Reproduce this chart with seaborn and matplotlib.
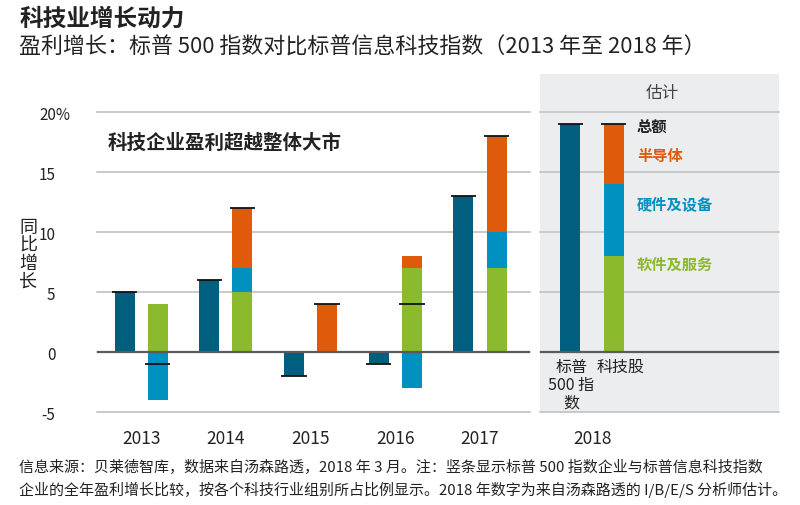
import numpy as np
import pandas as pd
import seaborn as sns
import matplotlib.pyplot as plt
from matplotlib.transforms import ScaledTranslation

# data (yoy earnings growth, %)
years = ['2013', '2014', '2015', '2016', '2017']
sp500 = [5, 6, -2, -1, 13]
software = [4, 5, 0, 7, 7]
hardware = [-4, 2, 0, -3, 3]
semis = [0, 5, 4, 1, 8]
tech_total = [-1, 12, 4, 4, 18]

est_year = '2018'
sp500_est = [19]
software_est = [8]
hardware_est = [6]
semis_est = [5]
tech_total_est = [19]

seg_labels = ['软件及服务', '硬件及设备', '半导体']
c_sp = '#005f7e'
c_soft = '#8bba2c'
c_hard = '#0091c1'
c_semi = '#e05a0c'
c_text = '#222222'
c_grid = '#c9c9c9'

sns.set_theme(style='white')
plt.rcParams['font.family'] = ['Noto Sans CJK SC', 'DejaVu Sans']

fig = plt.figure(figsize=(8, 5.06), dpi=100)
ax = fig.add_axes([97/800, 93/506, 433/800, 300/506])
ax2 = fig.add_axes([540/800, 93/506, 239/800, 338/506])

off = 0.195
bw = 0.236


def draw_tech(a, x, parts, totals):
    # stack positives up from zero and negatives down from zero
    parts = np.array(parts, dtype=float)
    pos_bottom = np.zeros(parts.shape[1])
    neg_bottom = np.zeros(parts.shape[1])
    for vals, col in zip(parts, [c_soft, c_hard, c_semi]):
        pos = np.where(vals > 0, vals, 0)
        neg = np.where(vals < 0, vals, 0)
        a.bar(x, pos, bw, bottom=pos_bottom, color=col, zorder=2, linewidth=0)
        a.bar(x, neg, bw, bottom=neg_bottom, color=col, zorder=2, linewidth=0)
        pos_bottom += pos
        neg_bottom += neg
    a.hlines(totals, x - 0.15, x + 0.15, color='#111111', lw=1.3, zorder=4)


# main years
xs = np.arange(len(years))
df = pd.DataFrame({'x': xs - off, 'sp500': sp500})
sns.barplot(data=df, x='x', y='sp500', native_scale=True, width=bw,
            color=c_sp, saturation=1, errorbar=None, ax=ax, zorder=2, linewidth=0)
ax.hlines(sp500, xs - off - 0.15, xs - off + 0.15, color='#111111', lw=1.3, zorder=4)
draw_tech(ax, xs + off, [software, hardware, semis], tech_total)

# 2018 estimate panel
x2 = np.array([0.0])
off2 = 0.255
df2 = pd.DataFrame({'x': x2 - off2, 'sp500': sp500_est})
sns.barplot(data=df2, x='x', y='sp500', native_scale=True, width=bw,
            color=c_sp, saturation=1, errorbar=None, ax=ax2, zorder=2, linewidth=0)
ax2.hlines(sp500_est, x2 - off2 - 0.15, x2 - off2 + 0.15, color='#111111', lw=1.3, zorder=4)
draw_tech(ax2, x2 + off2, [software_est, hardware_est, semis_est], tech_total_est)

# axes styling
yt = [-5, 0, 5, 10, 15, 20]
for a in (ax, ax2):
    a.set_ylabel('')
    a.set_xlabel('')
    a.set_yticks(yt)
    a.yaxis.grid(True, color=c_grid, lw=1.4)
    a.set_axisbelow(True)
    for ln in a.get_ygridlines():
        ln.set_clip_on(False)
    a.axhline(0, color='#5a5a5a', lw=1.6, zorder=3)
    sns.despine(ax=a, left=True, bottom=True)
    a.tick_params(axis='x', length=0, pad=12, labelsize=12.5, labelcolor=c_text)

ax.set_xlim(-0.52, 4.59)
ax.set_ylim(-5, 20)
ax.set_xticks(xs)
ax.set_xticklabels(years)
ax.set_yticklabels(['-5', '0', '5', '10', '15', '20%'])
ax.tick_params(axis='y', length=0, pad=30, labelsize=11, labelcolor=c_text)
for lab in ax.get_yticklabels():
    lab.set_horizontalalignment('right')
lab20 = ax.get_yticklabels()[-1]
lab20.set_transform(lab20.get_transform() + ScaledTranslation(0.15, 0, fig.dpi_scale_trans))

ax2.set_facecolor('#ecedef')
ax2.set_xlim(-0.614, 2.207)
ax2.set_ylim(-5, 23.2)
ax2.set_xticks([0])
ax2.set_xticklabels([est_year])
ax2.tick_params(axis='y', length=0, labelleft=False)

# panel texts
ax2.text(0.826, 21.65, '估计', ha='center', va='center', fontsize=12, color='#444444')
ax2.text(0.53, 18.8, '总额', ha='left', va='center', fontsize=11, fontweight='bold', color=c_text)
ax2.text(0.53, 16.45, seg_labels[2], ha='left', va='center', fontsize=11, fontweight='bold', color=c_semi)
ax2.text(0.53, 12.4, seg_labels[1], ha='left', va='center', fontsize=11, fontweight='bold', color=c_hard)
ax2.text(0.53, 7.4, seg_labels[0], ha='left', va='center', fontsize=11, fontweight='bold', color=c_soft)
ax2.text(-0.245, -0.5, '标普\n500 指\n数', ha='center', va='top', fontsize=11.5,
         color=c_text, linespacing=1.05)
ax2.text(0.34, -0.5, '科技股', ha='center', va='top', fontsize=11.5, color=c_text)

# annotation in main chart
ax.text(-0.39, 17.5, '科技企业盈利超越整体大市', ha='left', va='center', fontsize=14,
        fontweight='bold', color=c_text)

# y label, title, source
fig.text(28/800, 1 - 255/506, '同\n比\n增\n长', ha='center', va='center', fontsize=13,
         color=c_text, linespacing=1.0)
fig.text(19/800, 1 - 19/506, '科技业增长动力', ha='left', va='center', fontsize=17,
         fontweight='bold', color=c_text)
fig.text(19/800, 1 - 48/506, '盈利增长：标普 500 指数对比标普信息科技指数（2013 年至 2018 年）',
         ha='left', va='center', fontsize=15.8, color=c_text)
fig.text(19/800, 1 - 467/506,
         '信息来源：贝莱德智库，数据来自汤森路透，2018 年 3 月。注：竖条显示标普 500 指数企业与标普信息科技指数',
         ha='left', va='center', fontsize=10.8, color=c_text)
fig.text(19/800, 1 - 490/506,
         '企业的全年盈利增长比较，按各个科技行业组别所占比例显示。2018 年数字为来自汤森路透的 I/B/E/S 分析师估计。',
         ha='left', va='center', fontsize=10.8, color=c_text)

fig.savefig('out.png', dpi=100, facecolor='white')
